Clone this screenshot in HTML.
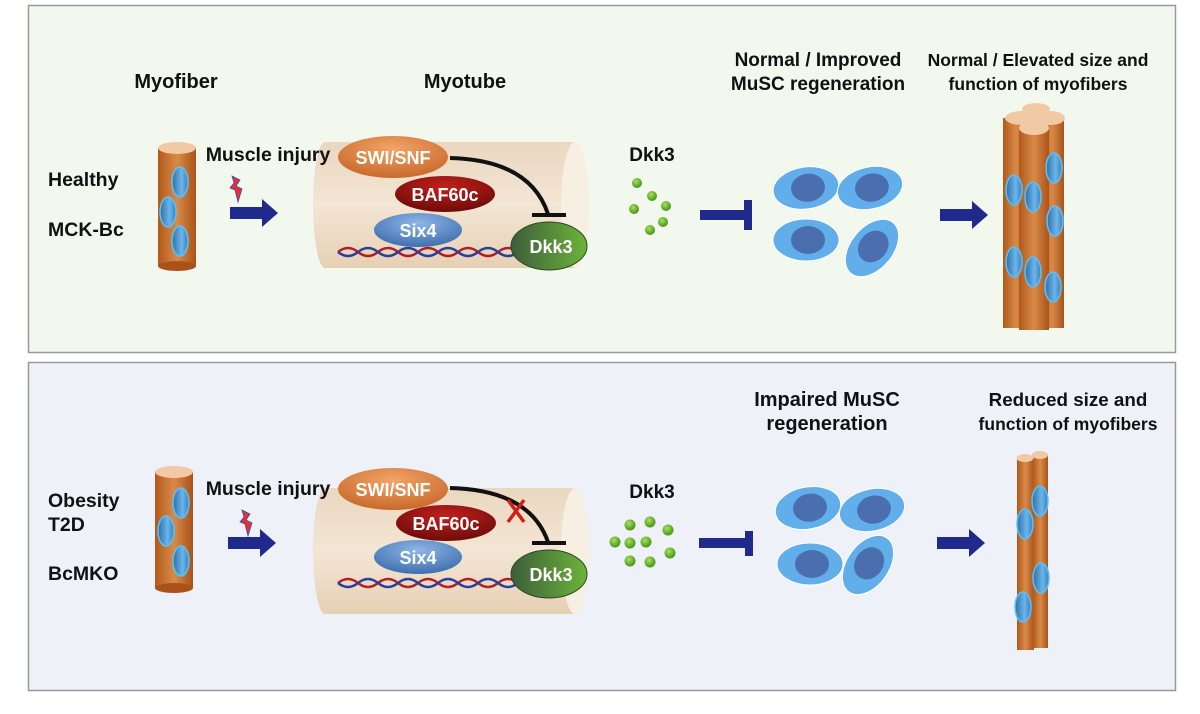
<!DOCTYPE html>
<html><head><meta charset="utf-8"><style>body{margin:0;background:#fff}svg{display:block}text{font-family:"Liberation Sans",Arial,sans-serif;font-weight:bold;fill:#111}</style></head><body>
<svg width="1200" height="714" viewBox="0 0 1200 714" xmlns="http://www.w3.org/2000/svg">
<defs>
<linearGradient id="fib" x1="0" x2="1"><stop offset="0" stop-color="#b05a1c"/><stop offset=".5" stop-color="#d98a48"/><stop offset="1" stop-color="#a9531a"/></linearGradient>
<linearGradient id="nuc" x1="0" x2="1"><stop offset="0" stop-color="#2f6fa8"/><stop offset=".6" stop-color="#6bb5ea"/><stop offset="1" stop-color="#3a7fc0"/></linearGradient>
<linearGradient id="tube" x1="0" y1="0" x2="0" y2="1"><stop offset="0" stop-color="#ead7bf"/><stop offset=".5" stop-color="#f3e6d4"/><stop offset="1" stop-color="#e6d0b4"/></linearGradient>
<radialGradient id="swi" cx=".5" cy=".3" r=".7"><stop offset="0" stop-color="#f2a466"/><stop offset="1" stop-color="#c8692c"/></radialGradient>
<radialGradient id="baf" cx=".5" cy=".3" r=".7"><stop offset="0" stop-color="#c2201c"/><stop offset="1" stop-color="#6e0c0a"/></radialGradient>
<radialGradient id="six" cx=".5" cy=".3" r=".7"><stop offset="0" stop-color="#8fb6e6"/><stop offset="1" stop-color="#3e6fae"/></radialGradient>
<linearGradient id="dkk" x1="0" x2="1"><stop offset="0" stop-color="#3d5e3a"/><stop offset="1" stop-color="#6cb33a"/></linearGradient>
<radialGradient id="dot" cx=".4" cy=".35" r=".6"><stop offset="0" stop-color="#a6e060"/><stop offset="1" stop-color="#4d9a1c"/></radialGradient>
<g id="nu"><ellipse rx="8" ry="15" fill="url(#nuc)" stroke="#5ec0f0" stroke-width="1.5"/></g>
<g id="cell"><ellipse rx="33" ry="21" fill="#62aeea" stroke="#fff" stroke-width="1"/><ellipse cx="2" rx="17" ry="14" fill="#4a6eae"/></g>
<g id="dna"><path d="M0 0 q10 -8 20 0 t20 0 t20 0 t20 0 t20 0 t20 0 t20 0 t20 0 t20 0" fill="none" stroke="#b0202a" stroke-width="2.5"/><path d="M0 0 q10 8 20 0 t20 0 t20 0 t20 0 t20 0 t20 0 t20 0 t20 0 t20 0" fill="none" stroke="#2a3f9a" stroke-width="2.5"/></g>
<g id="tubeG"><rect x="325" y="0" width="250" height="126" fill="url(#tube)"/><ellipse cx="325" cy="63" rx="12" ry="63" fill="url(#tube)"/><ellipse cx="575" cy="63" rx="14" ry="63" fill="#f7efe2"/></g>
<g id="arrow"><rect x="0" y="-6" width="34" height="12" fill="#1f2a8c"/><path d="M32 -14 L48 0 L32 14Z" fill="#1f2a8c"/></g>
<g id="bolt"><path d="M0 0 L8 4 L4 10 L10 13 L6 26 L3 14 L-2 12 L2 7 Z" fill="#e8302a" stroke="#3050c0" stroke-width=".8"/></g>
</defs>
<rect x="28.5" y="5.5" width="1147" height="347" fill="#f3f8ee" stroke="#999" stroke-width="1.5"/>
<rect x="28.5" y="362.5" width="1147" height="328" fill="#eef2f8" stroke="#999" stroke-width="1.5"/>

<!-- TOP -->
<use href="#tubeG" y="142"/>
<use href="#dna" x="338" y="252"/>
<g font-size="19.5">
<text x="176" y="88" text-anchor="middle" font-size="20">Myofiber</text>
<text x="465" y="88" text-anchor="middle" font-size="20">Myotube</text>
<text x="48" y="186">Healthy</text>
<text x="48" y="236">MCK-Bc</text>
<text x="268" y="161" text-anchor="middle">Muscle injury</text>
<text x="652" y="161" text-anchor="middle" font-size="19">Dkk3</text>
<text x="818" y="66" text-anchor="middle" font-size="19">Normal / Improved</text>
<text x="818" y="90" text-anchor="middle" font-size="19">MuSC regeneration</text>
<text x="1038" y="66" text-anchor="middle" font-size="17.5">Normal / Elevated size and</text>
<text x="1038" y="90" text-anchor="middle" font-size="17.5">function of myofibers</text>
</g>
<rect x="158" y="148" width="38" height="118" fill="url(#fib)"/><ellipse cx="177" cy="266" rx="19" ry="5" fill="#a9531a"/><ellipse cx="177" cy="148" rx="19" ry="6" fill="#f1c9a5"/>
<use href="#nu" x="180" y="182"/><use href="#nu" x="168" y="212"/><use href="#nu" x="180" y="241"/>
<use href="#bolt" x="232" y="176"/>
<use href="#arrow" x="230" y="213"/>
<path d="M450 158 Q530 160 548 214" fill="none" stroke="#111" stroke-width="4"/><rect x="532" y="213" width="34" height="4" fill="#111"/>
<ellipse cx="393" cy="157" rx="55" ry="21" fill="url(#swi)"/><text x="393" y="164" text-anchor="middle" font-size="18" style="fill:#fff">SWI/SNF</text>
<ellipse cx="445" cy="194" rx="50" ry="18" fill="url(#baf)"/><text x="445" y="201" text-anchor="middle" font-size="18" style="fill:#fff">BAF60c</text>
<ellipse cx="418" cy="230" rx="44" ry="17" fill="url(#six)"/><text x="418" y="237" text-anchor="middle" font-size="18" style="fill:#fff">Six4</text>
<ellipse cx="549" cy="246" rx="38" ry="24" fill="url(#dkk)" stroke="#2a4a20"/><text x="551" y="253" text-anchor="middle" font-size="18" style="fill:#fff">Dkk3</text>
<g fill="url(#dot)"><circle cx="637" cy="183" r="5"/><circle cx="652" cy="196" r="5"/><circle cx="666" cy="206" r="5"/><circle cx="634" cy="209" r="5"/><circle cx="650" cy="230" r="5"/><circle cx="663" cy="222" r="5"/></g>
<rect x="700" y="210" width="46" height="10" fill="#1f2a8c"/><rect x="744" y="200" width="8" height="30" fill="#1f2a8c"/>
<use href="#cell" x="806" y="188" transform="rotate(-8 806 188)"/><use href="#cell" x="870" y="188" transform="rotate(-12 870 188)"/>
<use href="#cell" x="806" y="240"/><use href="#cell" x="872" y="248" transform="rotate(-50 872 248)"/>
<use href="#arrow" x="940" y="215"/>
<rect x="1003" y="118" width="26" height="210" fill="url(#fib)"/><rect x="1040" y="118" width="24" height="210" fill="url(#fib)"/>
<ellipse cx="1022" cy="118" rx="17" ry="7" fill="#f1c9a5"/><ellipse cx="1050" cy="118" rx="15" ry="7" fill="#f1c9a5"/><ellipse cx="1036" cy="109" rx="14" ry="6" fill="#f1c9a5"/>
<rect x="1019" y="128" width="30" height="202" fill="url(#fib)"/><ellipse cx="1034" cy="128" rx="15" ry="7" fill="#f1c9a5"/>
<use href="#nu" x="1014" y="190"/><use href="#nu" x="1014" y="262"/><use href="#nu" x="1033" y="197"/><use href="#nu" x="1033" y="272"/><use href="#nu" x="1054" y="168"/><use href="#nu" x="1055" y="221"/><use href="#nu" x="1053" y="287"/>

<!-- BOTTOM -->
<use href="#tubeG" y="488"/>
<use href="#dna" x="338" y="583"/>
<g font-size="19.5">
<text x="48" y="507">Obesity</text>
<text x="48" y="531">T2D</text>
<text x="48" y="580">BcMKO</text>
<text x="268" y="495" text-anchor="middle">Muscle injury</text>
<text x="652" y="498" text-anchor="middle" font-size="19">Dkk3</text>
<text x="827" y="406" text-anchor="middle" font-size="20">Impaired MuSC</text>
<text x="827" y="430" text-anchor="middle" font-size="20">regeneration</text>
<text x="1068" y="406" text-anchor="middle" font-size="18.8">Reduced size and</text>
<text x="1068" y="430" text-anchor="middle" font-size="17.5">function of myofibers</text>
</g>
<rect x="155" y="472" width="38" height="116" fill="url(#fib)"/><ellipse cx="174" cy="588" rx="19" ry="5" fill="#a9531a"/><ellipse cx="174" cy="472" rx="19" ry="6" fill="#f1c9a5"/>
<use href="#nu" x="181" y="503"/><use href="#nu" x="166" y="531"/><use href="#nu" x="181" y="561"/>
<use href="#bolt" x="242" y="510"/>
<use href="#arrow" x="228" y="543"/>
<path d="M450 488 Q530 490 548 542" fill="none" stroke="#111" stroke-width="4"/><rect x="532" y="541" width="34" height="4" fill="#111"/>
<path d="M508 500 L524 522 M524 500 L508 522" stroke="#d0201a" stroke-width="3.5"/>
<ellipse cx="393" cy="489" rx="55" ry="21" fill="url(#swi)"/><text x="393" y="496" text-anchor="middle" font-size="18" style="fill:#fff">SWI/SNF</text>
<ellipse cx="446" cy="523" rx="50" ry="18" fill="url(#baf)"/><text x="446" y="530" text-anchor="middle" font-size="18" style="fill:#fff">BAF60c</text>
<ellipse cx="418" cy="557" rx="44" ry="17" fill="url(#six)"/><text x="418" y="564" text-anchor="middle" font-size="18" style="fill:#fff">Six4</text>
<ellipse cx="549" cy="574" rx="38" ry="24" fill="url(#dkk)" stroke="#2a4a20"/><text x="551" y="581" text-anchor="middle" font-size="18" style="fill:#fff">Dkk3</text>
<g fill="url(#dot)"><circle cx="630" cy="525" r="5.5"/><circle cx="650" cy="522" r="5.5"/><circle cx="668" cy="530" r="5.5"/><circle cx="615" cy="542" r="5.5"/><circle cx="630" cy="543" r="5.5"/><circle cx="646" cy="542" r="5.5"/><circle cx="670" cy="553" r="5.5"/><circle cx="630" cy="561" r="5.5"/><circle cx="650" cy="562" r="5.5"/></g>
<rect x="699" y="538" width="48" height="10" fill="#1f2a8c"/><rect x="745" y="531" width="8" height="25" fill="#1f2a8c"/>
<use href="#cell" x="808" y="508" transform="rotate(-10 808 508)"/><use href="#cell" x="872" y="510" transform="rotate(-12 872 510)"/>
<use href="#cell" x="810" y="564"/><use href="#cell" x="868" y="565" transform="rotate(-55 868 565)"/>
<use href="#arrow" x="937" y="543"/>
<rect x="1017" y="458" width="17" height="192" fill="url(#fib)"/><rect x="1033" y="455" width="15" height="193" fill="url(#fib)"/>
<ellipse cx="1025" cy="458" rx="8.5" ry="4" fill="#f1c9a5"/><ellipse cx="1040" cy="455" rx="8" ry="4" fill="#f1c9a5"/>
<use href="#nu" x="1040" y="501"/><use href="#nu" x="1025" y="524"/><use href="#nu" x="1041" y="578"/><use href="#nu" x="1023" y="607"/>
</svg>
</body></html>
